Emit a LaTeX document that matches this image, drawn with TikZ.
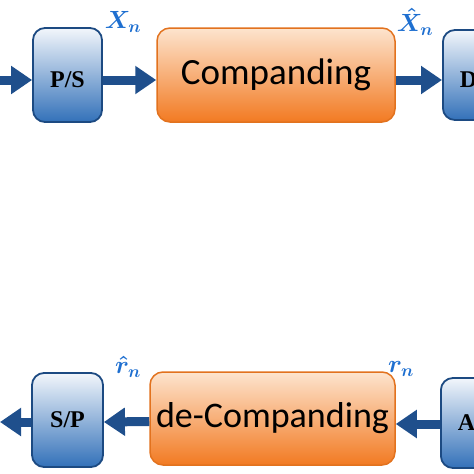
\documentclass[tikz,border=0pt]{standalone}
\usepackage{amsmath}
\usepackage{fontspec}
\setmainfont{Liberation Serif}
\newfontfamily\compfont{Carlito}
\usetikzlibrary{arrows.meta}
\definecolor{arrowblue}{HTML}{1F4F8C}
\definecolor{boxedge}{HTML}{1C4A82}
\definecolor{bluetop}{HTML}{F2F6FB}
\definecolor{bluemid}{HTML}{A9C5E5}
\definecolor{bluebot}{HTML}{3371B9}
\definecolor{orangeedge}{HTML}{E2721E}
\definecolor{orangetop}{HTML}{FDE4CE}
\definecolor{orangemid}{HTML}{F9B27C}
\definecolor{orangebot}{HTML}{F27A22}
\definecolor{labelblue}{HTML}{1E6FD0}
\tikzset{
  bluebox/.style={draw=boxedge, line width=1.8pt, rounded corners=12pt,
    top color=bluetop, middle color=bluemid, bottom color=bluebot,
    font=\fontsize{24}{26}\selectfont\bfseries, inner sep=0pt},
  orangebox/.style={draw=orangeedge, line width=1.5pt, rounded corners=13pt,
    top color=orangetop, middle color=orangemid, bottom color=orangebot,
    font=\compfont\fontsize{37}{40}\selectfont, inner sep=0pt},
  flow/.style={draw=arrowblue, line width=9pt,
    -{Triangle[length=21pt,width=27pt]}, color=arrowblue},
  siglabel/.style={text=labelblue, font=\fontsize{25}{27}\selectfont, inner sep=0pt}
}
\begin{document}
\begin{tikzpicture}[x=1pt,y=-1pt]
\useasboundingbox (0,0) rectangle (474,474);
\clip (0,0) rectangle (474,474);
% top row
\node[bluebox, minimum width=69pt, minimum height=94pt, text height=25pt, text depth=0pt] (ps) at (67.5,75) {P/S};
\node[orangebox, minimum width=238pt, minimum height=94pt] (comp) at (276,75) {Companding};
\node[bluebox, minimum width=94pt, minimum height=90pt, text width=60pt, inner xsep=16pt, align=left, text height=25pt, text depth=0pt, anchor=west] (dac) at (442,75) {D};
\coordinate (inL) at (-30,80);
\draw[flow] (inL) -- ([yshift=-5pt]ps.west);
\draw[flow] ([yshift=-5pt]ps.east) -- ([yshift=-5pt]comp.west);
\draw[flow] ([yshift=-5pt]comp.east) -- ([yshift=-5pt]dac.west);
\node[siglabel] (xn) at (123,22) {$\boldsymbol{X_n}$};
\node[siglabel] (xhn) at (415,22) {$\boldsymbol{\hat{X}_n}$};
% bottom row
\node[bluebox, minimum width=71pt, minimum height=94pt] (sp) at (67.5,420) {S/P};
\node[orangebox, minimum width=245pt, minimum height=93pt, font=\compfont\fontsize{36}{40}\selectfont] (decomp) at (272.5,418.5) {de-Companding};
\node[bluebox, minimum width=94pt, minimum height=90pt, text width=60pt, inner xsep=17pt, align=left, anchor=west] (adc) at (440,423) {A};
\coordinate (outL) at (0,422);
\draw[flow] ([yshift=-1pt]adc.west) -- ([yshift=-1pt]adc.west -| decomp.east);
\draw[flow] ([yshift=-3pt]decomp.west) -- ([yshift=-2pt]sp.east);
\draw[flow] ([yshift=-2pt]sp.west) -- (outL);
\node[siglabel] (rhn) at (128,367) {$\boldsymbol{\hat{r}_n}$};
\node[siglabel] (rn) at (401,369) {$\boldsymbol{r_n}$};
\end{tikzpicture}
\end{document}
